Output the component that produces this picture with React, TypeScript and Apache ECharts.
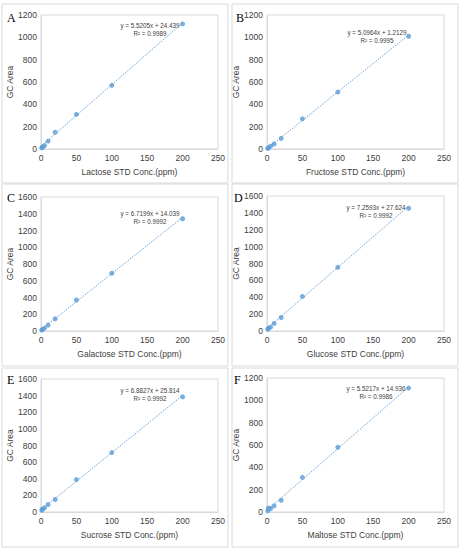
import React, { useEffect, useRef } from 'react';
import * as echarts from 'echarts';

// concentrations (ppm) shared by all six standards
const conc = [1, 2, 5, 10, 20, 50, 100, 200];

const letters = ['A', 'B', 'C', 'D', 'E', 'F'];
const sugars = ['Lactose', 'Fructose', 'Galactose', 'Glucose', 'Sucrose', 'Maltose'];

// GC peak areas
const lactose = [10, 18, 30, 70, 150, 310, 570, 1120];
const fructose = [5, 10, 25, 45, 95, 270, 510, 1010];
const galactose = [10, 20, 35, 70, 145, 370, 690, 1340];
const glucose = [20, 35, 45, 90, 160, 410, 755, 1455];
const sucrose = [20, 35, 50, 90, 150, 390, 715, 1385];
const maltose = [10, 35, 30, 55, 105, 310, 580, 1110];

// fitted trend lines as printed on each panel
const slopes = [5.5205, 5.0964, 6.7199, 7.2593, 6.8827, 5.5217];
const intercepts = [24.439, 1.2129, 14.039, 27.624, 25.814, 14.936];
const equations = [
  'y = 5.5205x + 24.439',
  'y = 5.0964x + 1.2129',
  'y = 6.7199x + 14.039',
  'y = 7.2593x + 27.624',
  'y = 6.8827x + 25.814',
  'y = 5.5217x + 14.936',
];
const rSquared = ['R² = 0.9989', 'R² = 0.9995', 'R² = 0.9992', 'R² = 0.9992', 'R² = 0.9992', 'R² = 0.9986'];

const yMax = [1200, 1200, 1600, 1600, 1600, 1200];
const xMax = 250;

const BLUE = '#5b9bd5';
const LINE = '#d9d9d9';
const TEXT = '#404040';
const FONT = '"Liberation Sans", Arial, sans-serif';

// layout of each panel: outer box, plot area, letter and equation anchors
const panels = [
  { box: [2, 4, 226, 179], grid: [41, 15, 177, 134], letter: [7, 12], eq: [150, 25] },
  { box: [232, 4, 226, 179], grid: [267, 15, 177, 134], letter: [236, 12], eq: [377, 32] },
  { box: [2, 184, 226, 182], grid: [41, 197, 177, 134], letter: [7, 192], eq: [150, 213] },
  { box: [232, 184, 226, 182], grid: [267, 196, 177, 135], letter: [234, 192], eq: [376, 207] },
  { box: [2, 368, 226, 179], grid: [41, 379, 177, 133], letter: [7, 374], eq: [150, 390] },
  { box: [232, 368, 226, 179], grid: [267, 378, 177, 134], letter: [234, 374], eq: [376, 388] },
];

const App: React.FC = () => {
  const chartRef = useRef<HTMLDivElement>(null);

  useEffect(() => {
    if (!chartRef.current) return;
    const chart = echarts.init(chartRef.current, undefined, { renderer: 'svg' });

    const areas = [lactose, fructose, galactose, glucose, sucrose, maltose];

    const grid = panels.map(p => ({
      left: p.grid[0],
      top: p.grid[1],
      width: p.grid[2],
      height: p.grid[3],
      show: true,
      borderColor: LINE,
      borderWidth: 1,
    }));

    const xAxis = panels.map((_, i) => ({
      type: 'value',
      gridIndex: i,
      min: 0,
      max: xMax,
      interval: 50,
      name: `${sugars[i]} STD Conc.(ppm)`,
      nameLocation: 'middle',
      nameGap: 18,
      nameTextStyle: { color: TEXT, fontFamily: FONT, fontSize: 8.5 },
      axisLine: { lineStyle: { color: LINE } },
      axisTick: { show: false },
      axisLabel: { color: TEXT, fontFamily: FONT, fontSize: 8.5, margin: 4, formatter: (v: number) => String(v) },
      splitLine: { show: false },
    }));

    const yAxis = panels.map((_, i) => ({
      type: 'value',
      gridIndex: i,
      min: 0,
      max: yMax[i],
      interval: 200,
      name: 'GC Area',
      nameLocation: 'middle',
      nameGap: 21,
      nameTextStyle: { color: TEXT, fontFamily: FONT, fontSize: 8.5 },
      axisLine: { show: true, lineStyle: { color: LINE } },
      axisTick: { show: false },
      axisLabel: { color: TEXT, fontFamily: FONT, fontSize: 8.5, margin: 4, formatter: (v: number) => String(v) },
      splitLine: { show: false },
    }));

    const series: any[] = [];
    areas.forEach((vals, i) => {
      const x0 = conc[0];
      const x1 = conc[conc.length - 1];
      series.push({
        type: 'line',
        xAxisIndex: i,
        yAxisIndex: i,
        data: [
          [x0, slopes[i] * x0 + intercepts[i]],
          [x1, slopes[i] * x1 + intercepts[i]],
        ],
        symbol: 'none',
        lineStyle: { color: BLUE, width: 1, type: [1.2, 1.2] },
        z: 2,
      });
      series.push({
        type: 'scatter',
        xAxisIndex: i,
        yAxisIndex: i,
        data: conc.map((c, k) => [c, vals[k]]),
        symbolSize: 5,
        itemStyle: { color: BLUE },
        z: 3,
      });
    });

    const graphic: any[] = [];
    panels.forEach((p, i) => {
      graphic.push({
        type: 'rect',
        shape: { x: p.box[0], y: p.box[1], width: p.box[2], height: p.box[3] },
        style: { fill: 'none', stroke: LINE, lineWidth: 1 },
        silent: true,
      });
      graphic.push({
        type: 'text',
        x: p.letter[0],
        y: p.letter[1],
        style: {
          text: letters[i],
          fill: '#000',
          font: '12px "Liberation Serif", "Times New Roman", serif',
        },
      });
      graphic.push({
        type: 'text',
        x: p.eq[0],
        y: p.eq[1],
        style: {
          text: equations[i],
          fill: TEXT,
          font: `6.3px ${FONT}`,
          align: 'center',
          verticalAlign: 'middle',
        },
      });
      graphic.push({
        type: 'text',
        x: p.eq[0],
        y: p.eq[1] + 8,
        style: {
          text: rSquared[i],
          fill: TEXT,
          font: `6.3px ${FONT}`,
          align: 'center',
          verticalAlign: 'middle',
        },
      });
    });

    chart.setOption({
      animation: false,
      backgroundColor: '#fff',
      grid,
      xAxis,
      yAxis,
      series,
      graphic,
    });

    return () => {
      chart.dispose();
    };
  }, []);

  return (
    <div
      ref={chartRef}
      style={{ position: 'fixed', left: 0, top: 0, width: '460px', height: '550px' }}
    />
  );
};

export default App;
